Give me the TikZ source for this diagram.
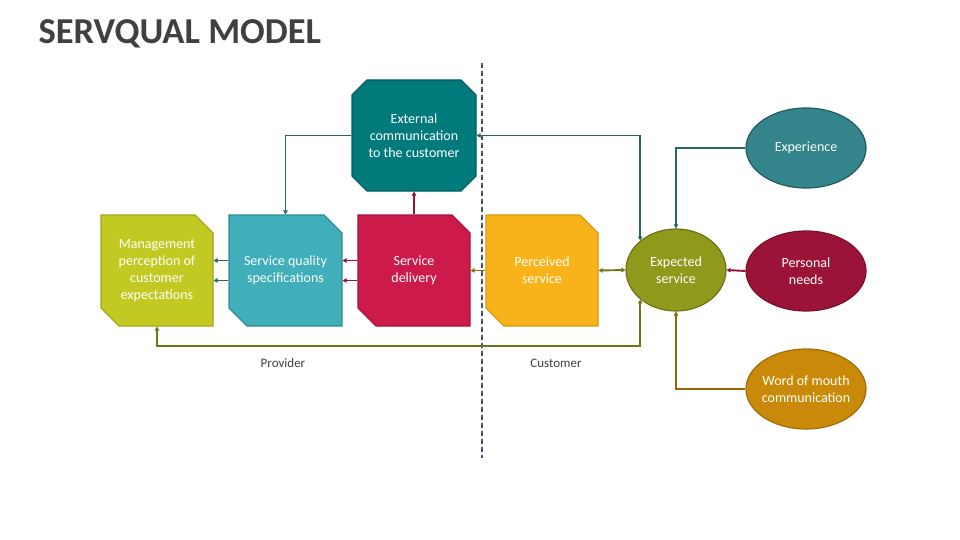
\documentclass[tikz,border=0pt]{standalone}
\usepackage{fontspec}
\setmainfont{Carlito}
\usetikzlibrary{shapes.misc, shapes.geometric, arrows.meta, positioning}

\begin{document}
\begin{tikzpicture}
		[x=1pt,y=-1pt,
		%Styles
		box text/.style={text=white,align=center,font=\fontsize{14}{17}\selectfont},
		snip box/.style={chamfered rectangle,chamfered rectangle corners={north east,south west},
			chamfered rectangle xsep=9pt,chamfered rectangle ysep=9pt,
			minimum width=112pt,minimum height=111pt,inner sep=0pt,line width=1.2pt,box text},
		octa box/.style={chamfered rectangle,chamfered rectangle xsep=7.5pt,chamfered rectangle ysep=7.5pt,
			minimum width=124pt,minimum height=111pt,inner sep=0pt,line width=1.2pt,box text},
		bubble/.style={ellipse,minimum width=120pt,minimum height=80pt,inner sep=0pt,inner xsep=-6pt,line width=1.2pt,box text},
		link/.style={line width=1.9pt,arrows={-Triangle[length=4pt,width=4.5pt]}},
		both/.style={arrows={Triangle[length=4pt,width=4.5pt]-Triangle[length=4pt,width=4.5pt]}},
		side label/.style={text=black!75,font=\fontsize{13}{15}\selectfont},
		title/.style={text=black!75,font=\fontsize{36.5}{42}\selectfont\bfseries}
		]
		
		%Colors
		\definecolor{mgmtfill}{HTML}{C3C923}	\definecolor{mgmtdraw}{HTML}{A2A71C}
		\definecolor{specfill}{HTML}{40AFB9}	\definecolor{specdraw}{HTML}{2F8D95}
		\definecolor{delivfill}{HTML}{CC1A4B}	\definecolor{delivdraw}{HTML}{A8143D}
		\definecolor{percfill}{HTML}{F8B31A}	\definecolor{percdraw}{HTML}{D9960F}
		\definecolor{extfill}{HTML}{007A7B}	\definecolor{extdraw}{HTML}{005E5F}
		\definecolor{expfill}{HTML}{8F991B}	\definecolor{expdraw}{HTML}{6B7314}
		\definecolor{experfill}{HTML}{33858B}	\definecolor{experdraw}{HTML}{22595D}
		\definecolor{needsfill}{HTML}{9B1438}	\definecolor{needsdraw}{HTML}{7A0F2C}
		\definecolor{wordfill}{HTML}{C98A0A}	\definecolor{worddraw}{HTML}{A06D08}
		\definecolor{tealline}{HTML}{2A6468}	\definecolor{redline}{HTML}{8D1538}
		\definecolor{oliveline}{HTML}{6E7616}	\definecolor{brownline}{HTML}{86700F}
		\definecolor{wordline}{HTML}{94660C}	\definecolor{divider}{HTML}{44546A}
		
		\useasboundingbox (0,0) rectangle (960,540);
		
		%The graphic
		
		\node[title,anchor=west] (title) at (35,34) {SERVQUAL MODEL};
		
		\coordinate (mgmt pos) at (157,270.5);
		\coordinate (expected pos) at (676,270);
		
		\node[snip box,fill=mgmtfill,draw=mgmtdraw] (mgmt) at (mgmt pos) {Management\\perception of\\customer\\expectations};
		\node[snip box,fill=specfill,draw=specdraw,minimum width=113pt,right=14.8pt of mgmt] (spec) {Service quality\\specifications};
		\node[snip box,fill=delivfill,draw=delivdraw,right=14.8pt of spec] (delivery) {Service\\delivery};
		\node[snip box,fill=percfill,draw=percdraw,right=14.8pt of delivery] (perceived) {Perceived\\service};
		\node[octa box,fill=extfill,draw=extdraw] (extcomm) at (414,135.5) {External\\communication\\to the customer};
		
		\node[bubble,fill=expfill,draw=expdraw,minimum width=100pt,minimum height=82pt] (expected) at (expected pos) {Expected\\service};
		\node[bubble,fill=experfill,draw=experdraw] (experience) at (806,148) {Experience};
		\node[bubble,fill=needsfill,draw=needsdraw] (needs) at (806,271) {Personal\\needs};
		\node[bubble,fill=wordfill,draw=worddraw] (word) at (806,389) {Word of mouth\\communication};
		
		\draw[divider,line width=1.4pt,dash pattern=on 5pt off 3pt] (482,63) -- (482,458);
		\node[side label] (provider) at (283,363) {Provider};
		\node[side label] (customer) at (556,363) {Customer};
		
		%Connectors
		\draw[link,tealline] (extcomm.west) -| (spec.north);
		\draw[link,redline] (delivery.north) -- (delivery.north |- extcomm.south);
		\draw[link,both,tealline] (extcomm.east) -| (expected.north west);
		\draw[link,tealline] (experience.west) -| (expected.north);
		\draw[link,redline] (needs.west) -- (expected.east);
		\draw[link,wordline] (word.west) -| (expected.south);
		\draw[link,both,oliveline] (perceived.east) -- (expected.west);
		\draw[link,brownline] (perceived.west) -- (delivery.east);
		\draw[link,redline] ([yshift=10pt]delivery.west) -- ([yshift=10pt]spec.east);
		\draw[link,redline] ([yshift=-10pt]delivery.west) -- ([yshift=-10pt]spec.east);
		\draw[link,tealline] ([yshift=10pt]spec.west) -- ([yshift=10pt]mgmt.east);
		\draw[link,tealline] ([yshift=-10pt]spec.west) -- ([yshift=-10pt]mgmt.east);
		\draw[link,both,oliveline] (mgmt.south) -- ++(0,19) -| (expected.south west);
		
	\end{tikzpicture}
\end{document}
